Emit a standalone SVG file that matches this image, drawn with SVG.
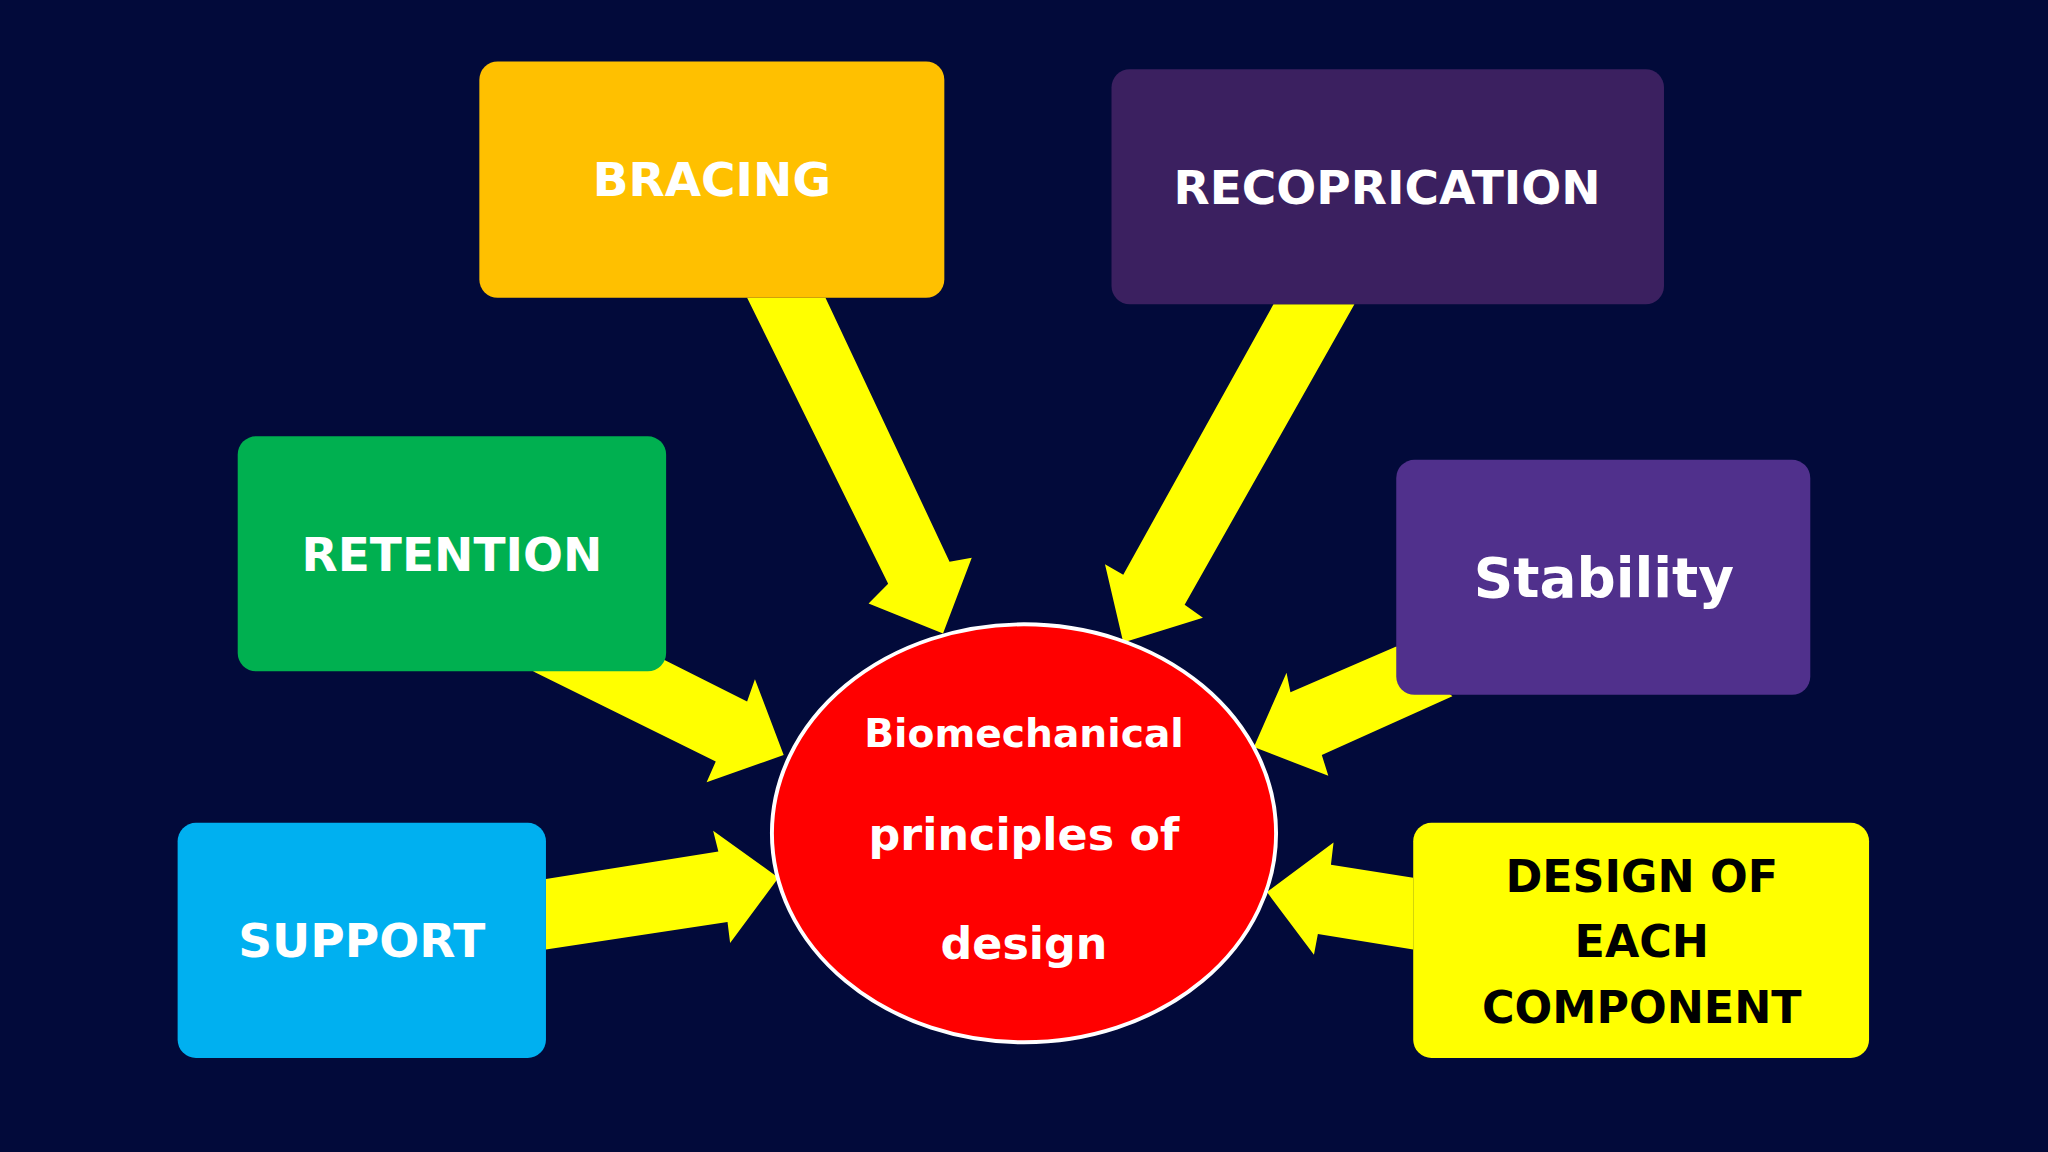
<svg xmlns="http://www.w3.org/2000/svg" width="2048" height="1152" viewBox="0 0 2048 1152">
<style>
.t{font-family:"DejaVu Sans","Liberation Sans",sans-serif;font-weight:bold;text-anchor:middle;fill:#fff}
.arr{fill:#FFFF00}
</style>
<rect width="2048" height="1152" fill="#020A3A"/>
<g transform="scale(1.30612)">
<g id="connectors">
<polygon class="arr" points="572,228 632,228 727,430 744,427 722,485 665,462 680,447"/>
<polygon class="arr" points="975,233 1037,233 907,463 921,473 860,492 846,432 860,440"/>
<polygon class="arr" points="408,514 508,505 572,537 578,520 600,578 541,599 548,583"/>
<polygon class="arr" points="1069,495 1112,533 1012,578 1017,594 960,572 985,515 988,530"/>
<polygon class="arr" points="418,673 550,652 546,636 596,672 559,722 557,706 418,727"/>
<polygon class="arr" points="1082,672 1019,662 1021,645 970,683 1006,731 1009,715 1082,727"/>
</g>
<g id="center"><ellipse cx="784" cy="638" rx="193" ry="160" fill="#FF0000" stroke="#fff" stroke-width="3"/>
<text class="t" x="784" y="572" font-size="30">Biomechanical</text>
<text class="t" x="784" y="651" font-size="34">principles of</text>
<text class="t" x="784" y="734" font-size="34">design</text></g>
<g id="bracing"><rect x="367" y="47" width="356" height="181" rx="14" fill="#FFC000"/><text class="t" x="545" y="150" font-size="36">BRACING</text></g>
<g id="recoprication"><rect x="851" y="53" width="423" height="180" rx="14" fill="#3B2060"/><text class="t" x="1062" y="156" font-size="36">RECOPRICATION</text></g>
<g id="retention"><rect x="182" y="334" width="328" height="180" rx="14" fill="#00B050"/><text class="t" x="346" y="437" font-size="36">RETENTION</text></g>
<g id="stability"><rect x="1069" y="352" width="317" height="180" rx="14" fill="#50308C"/><text class="t" x="1228" y="457" font-size="42">Stability</text></g>
<g id="support"><rect x="136" y="630" width="282" height="180" rx="14" fill="#00B0F0"/><text class="t" x="277" y="733" font-size="36">SUPPORT</text></g>
<g id="design"><rect x="1082" y="630" width="349" height="180" rx="14" fill="#FFFF00"/>
<text class="t" x="1257" y="683" font-size="34" fill="#000" style="fill:#000">DESIGN OF</text>
<text class="t" x="1257" y="733" font-size="34" style="fill:#000">EACH</text>
<text class="t" x="1257" y="783" font-size="34" style="fill:#000">COMPONENT</text></g>
</g>
</svg>
